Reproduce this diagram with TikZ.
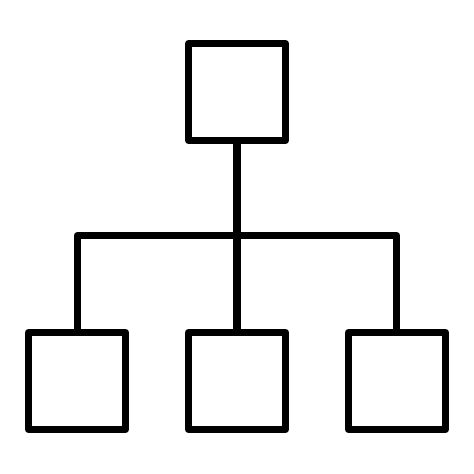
\documentclass[tikz,border=0pt]{standalone}
\usepackage[]{tikz}
\usetikzlibrary{positioning}
\tikzset{box/.style={draw,line width=4pt,rectangle,minimum size=1.94cm,inner sep=0pt,line join=round},
         link/.style={line width=4pt,line join=round}}

\begin{document}
\begin{tikzpicture}[x=0.02cm,y=-0.02cm]
            \useasboundingbox (0,0) rectangle (474,474);  % 画布
            \node[box] (top) at (237,92) {};
            \node[box] (mid) at (237,381) {};
            \node[box,left=3.2cm of mid.center,anchor=center] (lft) {};
            \node[box,right=3.2cm of mid.center,anchor=center] (rgt) {};
            \coordinate (hub) at (237,235.5);
            \draw[link] (top.south) -- (mid.north);  % 主干
            \draw[link] (lft.north) |- (hub) -| (rgt.north);
        \end{tikzpicture}
\end{document}
